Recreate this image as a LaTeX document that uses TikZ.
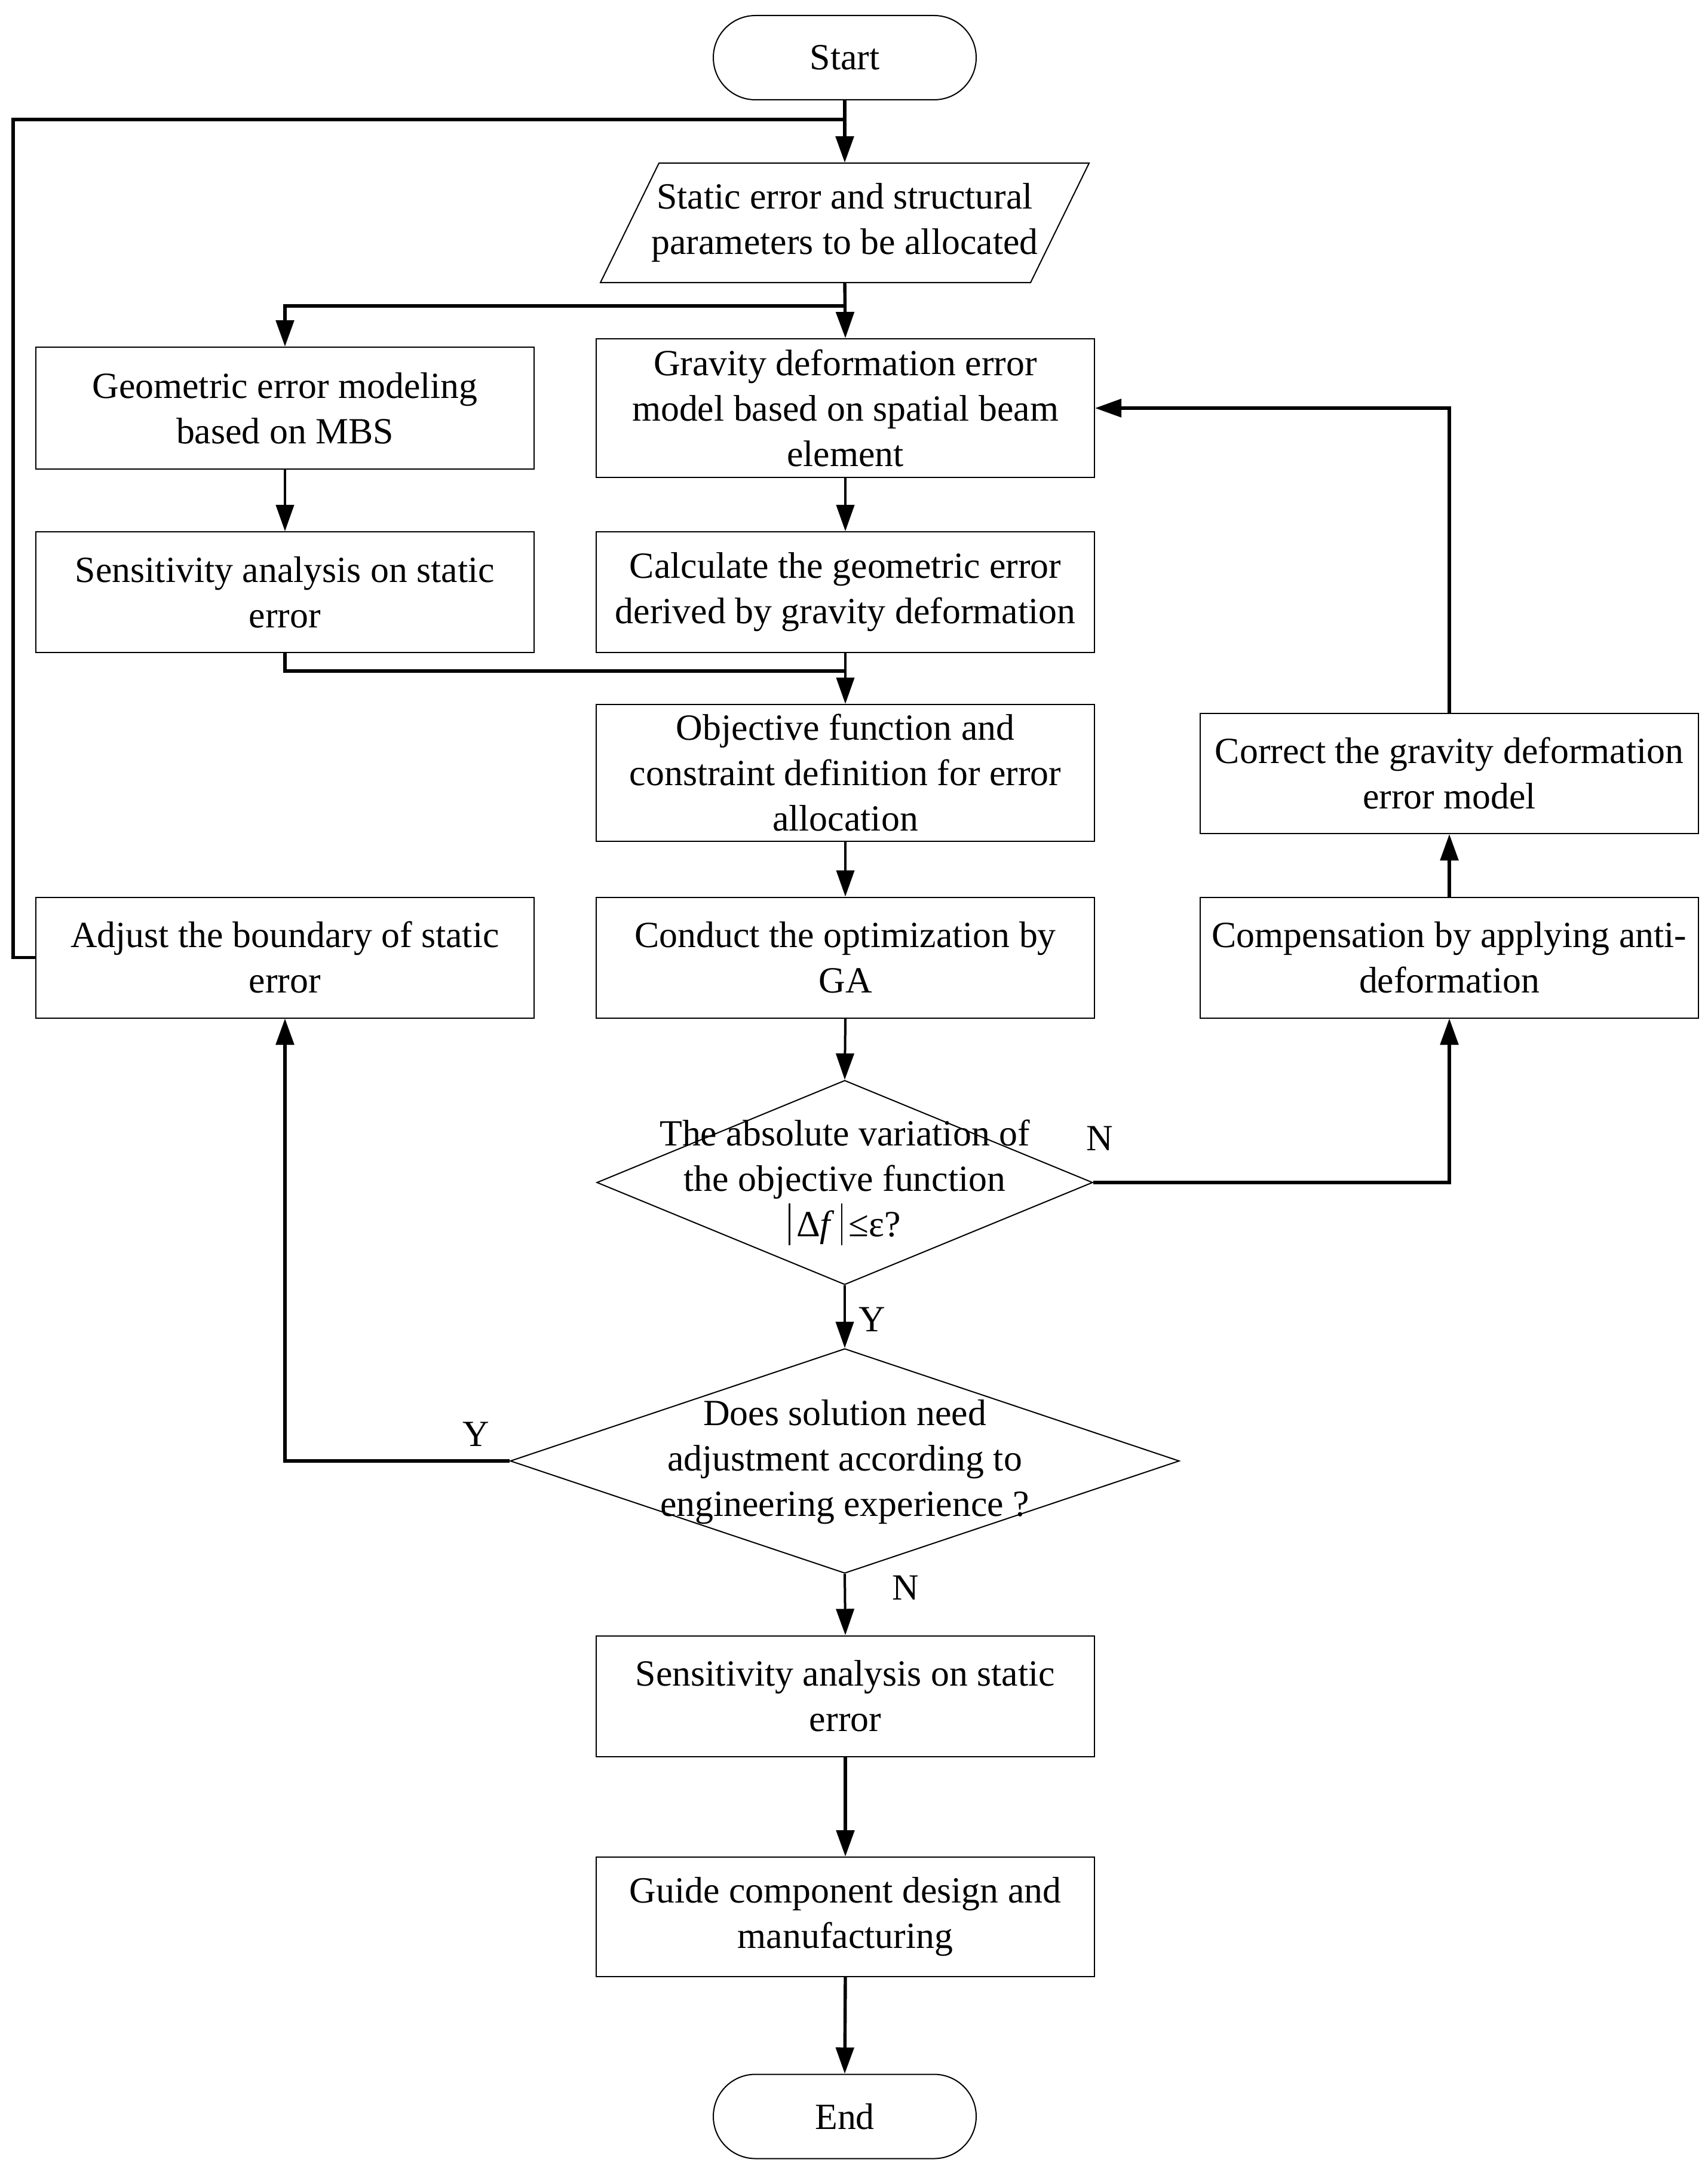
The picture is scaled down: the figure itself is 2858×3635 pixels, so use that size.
\documentclass[tikz,border=0pt]{standalone}
\usepackage{fontspec}
\setmainfont{Liberation Serif}
\usetikzlibrary{arrows.meta,shapes.geometric,shapes.misc}
\newcommand{\vbarx}{\rule[-0.22em]{0.045em}{1.12em}}
\tikzset{
  box/.style={draw, line width=0.5pt, minimum width=208.5pt, minimum height=50.5pt, align=center, inner sep=0pt},
  term/.style={draw, rounded rectangle, line width=0.5pt, minimum width=110pt, minimum height=35.25pt, inner sep=0pt},
  dia/.style={draw, diamond, line width=0.5pt, inner sep=0pt},
  txt/.style={align=center, inner sep=0pt},
  conn/.style={line width=1.0pt, -{Triangle[length=11pt,width=7.5pt]}},
  thick conn/.style={conn, line width=1.35pt},
  plain/.style={line width=1.35pt},
  lab/.style={inner sep=0pt}
}
\begin{document}
\begin{tikzpicture}[x=0.25pt, y=-0.25pt, font=\fontsize{15.45pt}{19pt}\selectfont]
\useasboundingbox (0,0) rectangle (2858,3635);
% nodes
\node[term] (start) at (1414,96.5) {Start};
\node[txt, minimum height=50pt] (para) at (1414,373) {Static error and structural\\parameters to be allocated};
\draw[line width=0.5pt] (1103,273) -- (1823,273) -- (1725,473) -- (1005,473) -- cycle;
\node[box, minimum height=51pt] (geo) at (477,683) {Geometric error modeling\\based on MBS};
\node[box, minimum height=58pt] (grav) at (1415,683) {Gravity deformation error\\model based on spatial beam\\element};
\node[box] (sensl) at (477,991) {Sensitivity analysis on static\\error};
\node[box] (calc) at (1415,991) {Calculate the geometric error\\derived by gravity deformation};
\node[box, minimum height=57.25pt] (obj) at (1415,1293.5) {Objective function and\\constraint definition for error\\allocation};
\node[box, minimum height=50.25pt] (corr) at (2426,1294.5) {Correct the gravity deformation\\error model};
\node[box] (adj) at (477,1602.5) {Adjust the boundary of static\\error};
\node[box] (cond) at (1415,1602.5) {Conduct the optimization by\\GA};
\node[box] (comp) at (2426,1602.5) {Compensation by applying anti-\\deformation};
\node[dia, minimum width=207.5pt, minimum height=85.5pt] (d1) at (1414,1979) {};
\node[txt] (d1t) at (1414,1979) {The absolute variation of\\the objective function\\\vbarx\,Δ\textit{f}\,\vbarx\,≤ε?};
\node[dia, minimum width=280pt, minimum height=94pt] (d2) at (1414,2445) {};
\node[txt] (d2t) at (1414,2447) {Does solution need\\adjustment according to\\engineering experience ?};
\node[box] (sensb) at (1415,2838.5) {Sensitivity analysis on static\\error};
\node[box, minimum height=50pt] (guide) at (1415,3208) {Guide component design and\\manufacturing};
\node[term] (end) at (1414,3542) {End};
% labels
\node[lab] (n1) at (1841,1905) {N};
\node[lab] (y1) at (1460,2208) {Y};
\node[lab] (y2) at (797,2400) {Y};
\node[lab] (n2) at (1516,2657) {N};
% coordinates
\coordinate (fb) at (1414,200);
\coordinate (br) at (1414,512);
\coordinate (mg) at (1414,1123);
% connectors
\draw[thick conn] (start.south) -- (para.north);
\draw[plain] (adj.west) -- ++(-37,0) |- (fb);
\draw[thick conn] (para.south) -- (grav.north);
\draw[thick conn] (br) -| (geo.north);
\draw[conn] (geo.south) -- (sensl.north);
\draw[conn] (grav.south) -- (calc.north);
\draw[plain] (sensl.south) |- (mg);
\draw[conn] (calc.south) -- (obj.north);
\draw[conn] (obj.south) -- (cond.north);
\draw[conn] (cond.south) -- (d1.north);
\draw[thick conn] (d1.east) -| (comp.south);
\draw[thick conn] (comp.north) -- (corr.south);
\draw[thick conn] (corr.north) |- (grav.east);
\draw[conn] (d1.south) -- (d2.north);
\draw[thick conn] (d2.west) -| (adj.south);
\draw[conn] (d2.south) -- (sensb.north);
\draw[thick conn] (sensb.south) -- (guide.north);
\draw[thick conn] (guide.south) -- (end.north);
\end{tikzpicture}
\end{document}
